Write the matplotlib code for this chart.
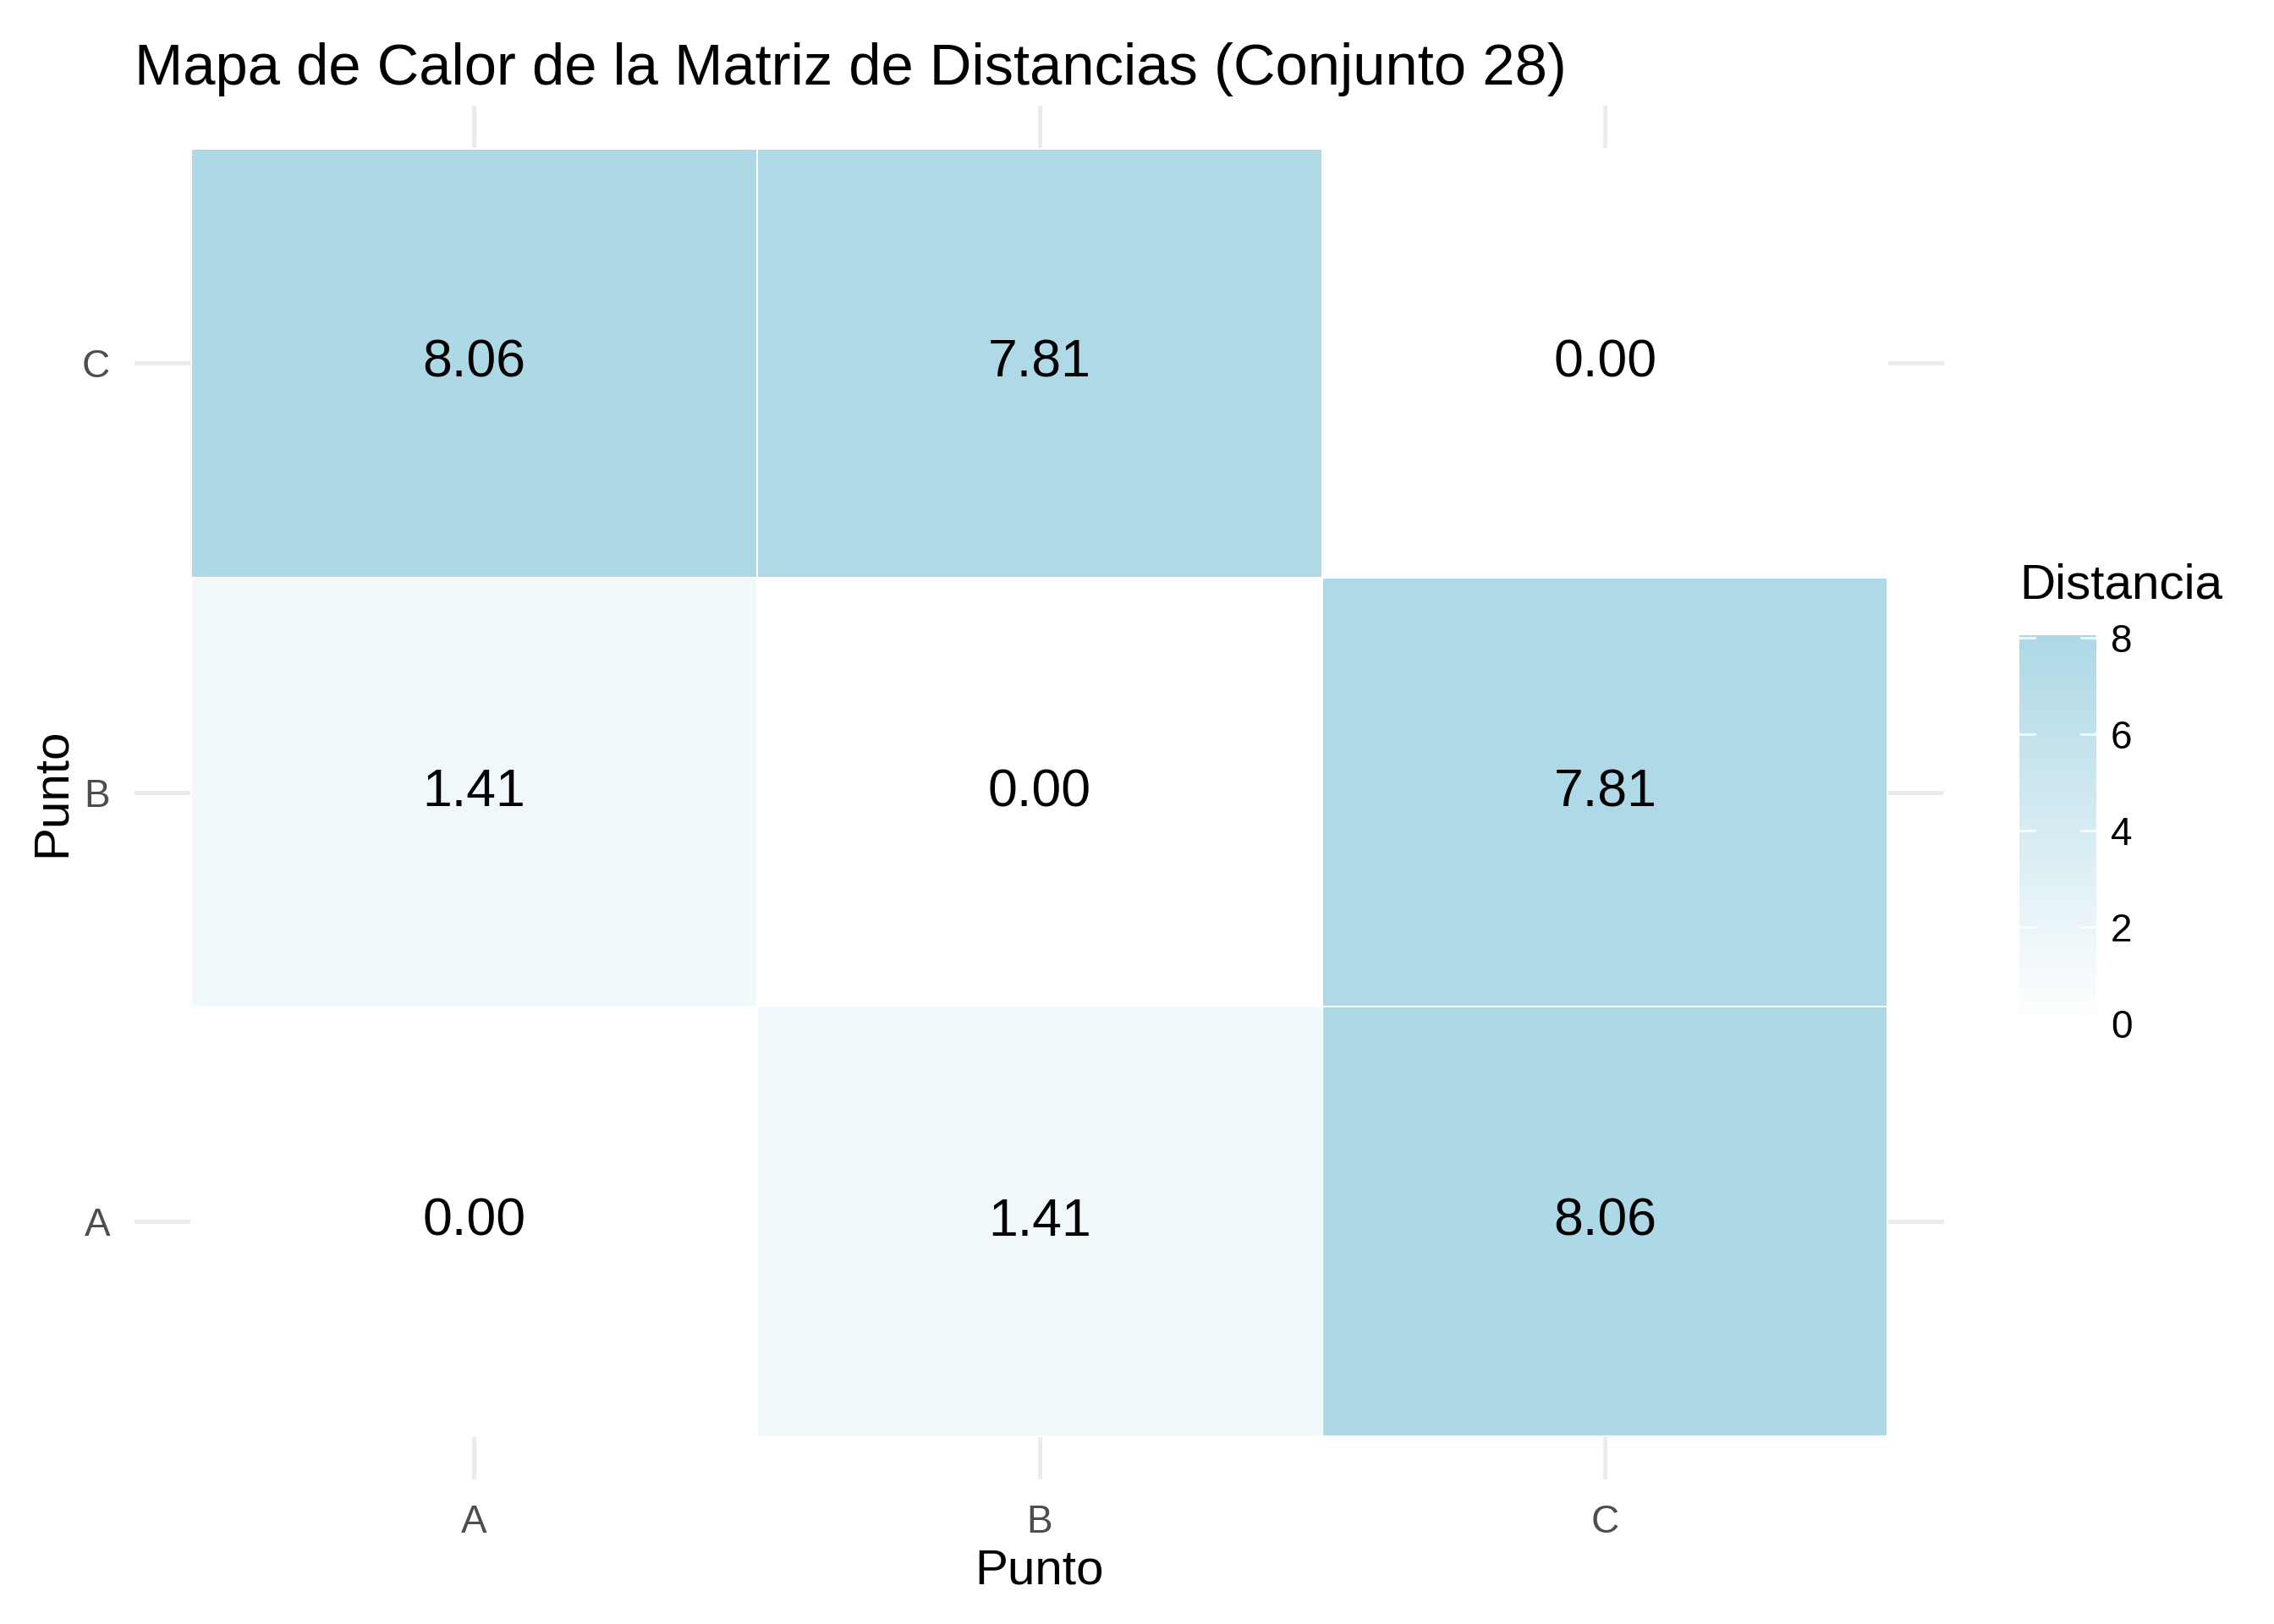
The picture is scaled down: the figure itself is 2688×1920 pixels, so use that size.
import matplotlib
matplotlib.use("Agg")
import matplotlib.pyplot as plt
import numpy as np
from matplotlib.colors import LinearSegmentedColormap

labels = ["A", "B", "C"]
dist = np.array([[0.00, 1.41, 8.06],
                 [1.41, 0.00, 7.81],
                 [8.06, 7.81, 0.00]])

plt.rcParams['font.family'] = ['Liberation Sans', 'DejaVu Sans']
fig = plt.figure(figsize=(8.96, 6.4), dpi=300)
ax = fig.add_axes([0.0593, 0.0893, 0.7957, 0.8457])
cmap = LinearSegmentedColormap.from_list("wb", ["#FFFFFF", "#ADD8E6"])
vmax = dist.max()
for i in range(3):
    ax.axvline(i + 1, color="#EBEBEB", lw=1.2, zorder=0)
    ax.axhline(i + 1, color="#EBEBEB", lw=1.2, zorder=0)
x = np.arange(0.5, 4.0, 1.0)
m = ax.pcolormesh(x, x, dist, cmap=cmap, vmin=0, vmax=vmax, edgecolor="white", linewidth=0.4, zorder=1)
for i in range(3):
    for j in range(3):
        ax.text(j + 1, i + 1, f"{dist[i, j]:.2f}", ha="center", va="center", fontsize=15, zorder=2)
ax.set_xlim(0.4, 3.6)
ax.set_ylim(0.4, 3.6)
ax.set_xticks([1, 2, 3], labels)
ax.set_yticks([1, 2, 3], labels)
ax.tick_params(length=0, colors="#4D4D4D", labelsize=11, pad=7)
for s in ax.spines.values():
    s.set_visible(False)
ax.set_xlabel("Punto", fontsize=14, labelpad=2)
ax.set_ylabel("Punto", fontsize=14, labelpad=2)
ax.set_title("Mapa de Calor de la Matriz de Distancias (Conjunto 28)", fontsize=16.5, loc="left", pad=6)

cax = fig.add_axes([0.888, 0.370, 0.034, 0.239])
cb = fig.colorbar(m, cax=cax, ticks=[0, 2, 4, 6, 8])
cb.outline.set_visible(False)
cax.tick_params(length=0, labelsize=11, pad=4)
for t in [0, 2, 4, 6, 8]:
    cax.plot([0, 0.2], [t, t], color="white", lw=0.6, transform=cax.get_yaxis_transform())
    cax.plot([0.8, 1.0], [t, t], color="white", lw=0.6, transform=cax.get_yaxis_transform())
fig.text(0.888, 0.625, "Distancia", fontsize=14, ha="left", va="bottom")
fig.savefig("out.png", dpi=300)
